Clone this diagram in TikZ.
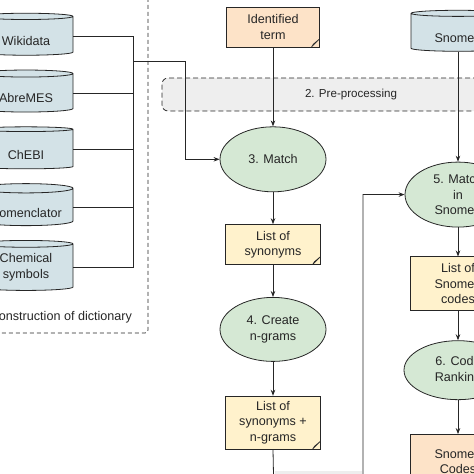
\documentclass[tikz,border=0pt]{standalone}
\usepackage{fontspec}
\setmainfont{Liberation Sans}
\usetikzlibrary{positioning,shapes.geometric,arrows.meta}
\definecolor{dbblue}{HTML}{D3E2E7}
\definecolor{stepgreen}{HTML}{D5E8D4}
\definecolor{listyellow}{HTML}{FFF2CC}
\definecolor{termorange}{HTML}{FDE3C8}
\definecolor{stagegray}{HTML}{EEEEEE}
\tikzset{
base/.style={draw=black!85,line width=0.8pt,align=center,
font=\fontsize{12.6}{15.5}\selectfont,text=black!85},
db/.style={base,cylinder,shape border rotate=90,aspect=0.13,
minimum width=94pt,minimum height=42pt,inner sep=0pt,fill=dbblue,
execute at begin node={\rule{0pt}{20pt}}},
stepnode/.style={base,ellipse,minimum width=106pt,minimum height=65pt,
inner sep=0pt,fill=stepgreen},
fold/.style={path picture={
\filldraw[fill=white,draw=black!85,line width=0.6pt]
([xshift=-8pt]path picture bounding box.south east) --
([yshift=8pt]path picture bounding box.south east) --
([xshift=-6pt,yshift=3pt]path picture bounding box.south east) -- cycle;}},
listbox/.style={base,rectangle,minimum width=95pt,minimum height=40pt,
inner sep=1pt,fill=listyellow,fold},
termbox/.style={base,rectangle,minimum width=93pt,minimum height=40pt,
inner sep=1pt,fill=termorange,fold},
stagebox/.style={base,rectangle,rounded corners=6pt,dashed,
dash pattern=on 5pt off 3pt,fill=stagegray,font=\fontsize{11.6}{14}\selectfont},
dictbox/.style={base,rectangle,rounded corners=3pt,dashed,
dash pattern=on 4pt off 3pt},
arr/.style={draw=black!85,line width=0.8pt,-{Stealth[length=6pt,width=4.5pt]}},
line/.style={draw=black!85,line width=0.8pt}
}

\begin{document}
\begin{tikzpicture}[x=1pt,y=-1pt]
\useasboundingbox (0,0) rectangle (474,474);
\clip (0,0) rectangle (474,474);

\node[dictbox,minimum width=188pt,minimum height=343pt] (Dict) at (54,161.5) {};
\node[base,draw=none,inner sep=0pt,anchor=south east]
  at ([xshift=-16pt,yshift=10pt]Dict.south east) {1. Construction of dictionary};

\node[db] (Wiki) at (26,36) {Wikidata};
\node[db,below=14pt of Wiki] (Abre) {AbreMES};
\node[db,below=14pt of Abre] (ChEBI) {ChEBI};
\node[db,below=14pt of ChEBI] (Nomen) {Nomenclator};
\node[db,below=14pt of Nomen,minimum height=50pt] (Chem) {Chemical\\symbols};

\node[stagebox,minimum width=378pt,minimum height=33pt] (Pre) at (351,94.5) {2. Pre-processing};
\fill[stagegray] (275,471) rectangle (362,490);

\node[termbox] (Term) at (273,27) {Identified\\term};
\node[stepnode,below=79pt of Term] (M3) {3. Match};
\node[listbox,below=32pt of M3] (Syn) {List of\\synonyms};
\node[stepnode,below=32pt of Syn,minimum height=64pt] (NG4) {4. Create\\n-grams};
\node[listbox,below=34pt of NG4,minimum height=53pt] (SynNG) {List of\\synonyms +\\n-grams};

\node[db,minimum height=41pt] (Snomed) at (458,32.5) {Snomed};
\node[stepnode,below=110pt of Snomed] (M5) {5. Match\\in\\Snomed};
\node[listbox,below=29pt of M5,minimum width=96pt,minimum height=54pt] (Codes) {List of\\Snomed\\codes};
\node[stepnode,below=29pt of Codes,minimum width=108pt,minimum height=59pt] (Rank6) {6. Code\\Ranking};
\node[termbox,below=34pt of Rank6,minimum width=96pt,minimum height=54pt] (Out) {Snomed\\Codes};

\coordinate (Join) at (133,61);
\coordinate (Drop) at (185,61);
\coordinate (Low) at (274,500);
\coordinate (Back) at (363,500);

\draw[line] (Wiki.east) -- (Wiki.east -| Join) -- (Chem.east -| Join) -- (Chem.east);
\draw[line] (Abre.east) -- (Abre.east -| Join);
\draw[line] (ChEBI.east) -- (ChEBI.east -| Join);
\draw[line] (Nomen.east) -- (Nomen.east -| Join);
\draw[arr] (Join) -- (Drop) |- (M3.west);

\draw[arr] (Term) -- (M3);
\draw[arr] (M3) -- (Syn);
\draw[arr] (Syn) -- (NG4);
\draw[arr] (NG4) -- (SynNG);
\draw[arr] (SynNG.south) -- (Low) -- (Back) |- (M5.west);

\draw[arr] (Snomed) -- (M5);
\draw[arr] (M5) -- (Codes);
\draw[arr] (Codes) -- (Rank6);
\draw[arr] (Rank6) -- (Out);
\end{tikzpicture}
\end{document}
